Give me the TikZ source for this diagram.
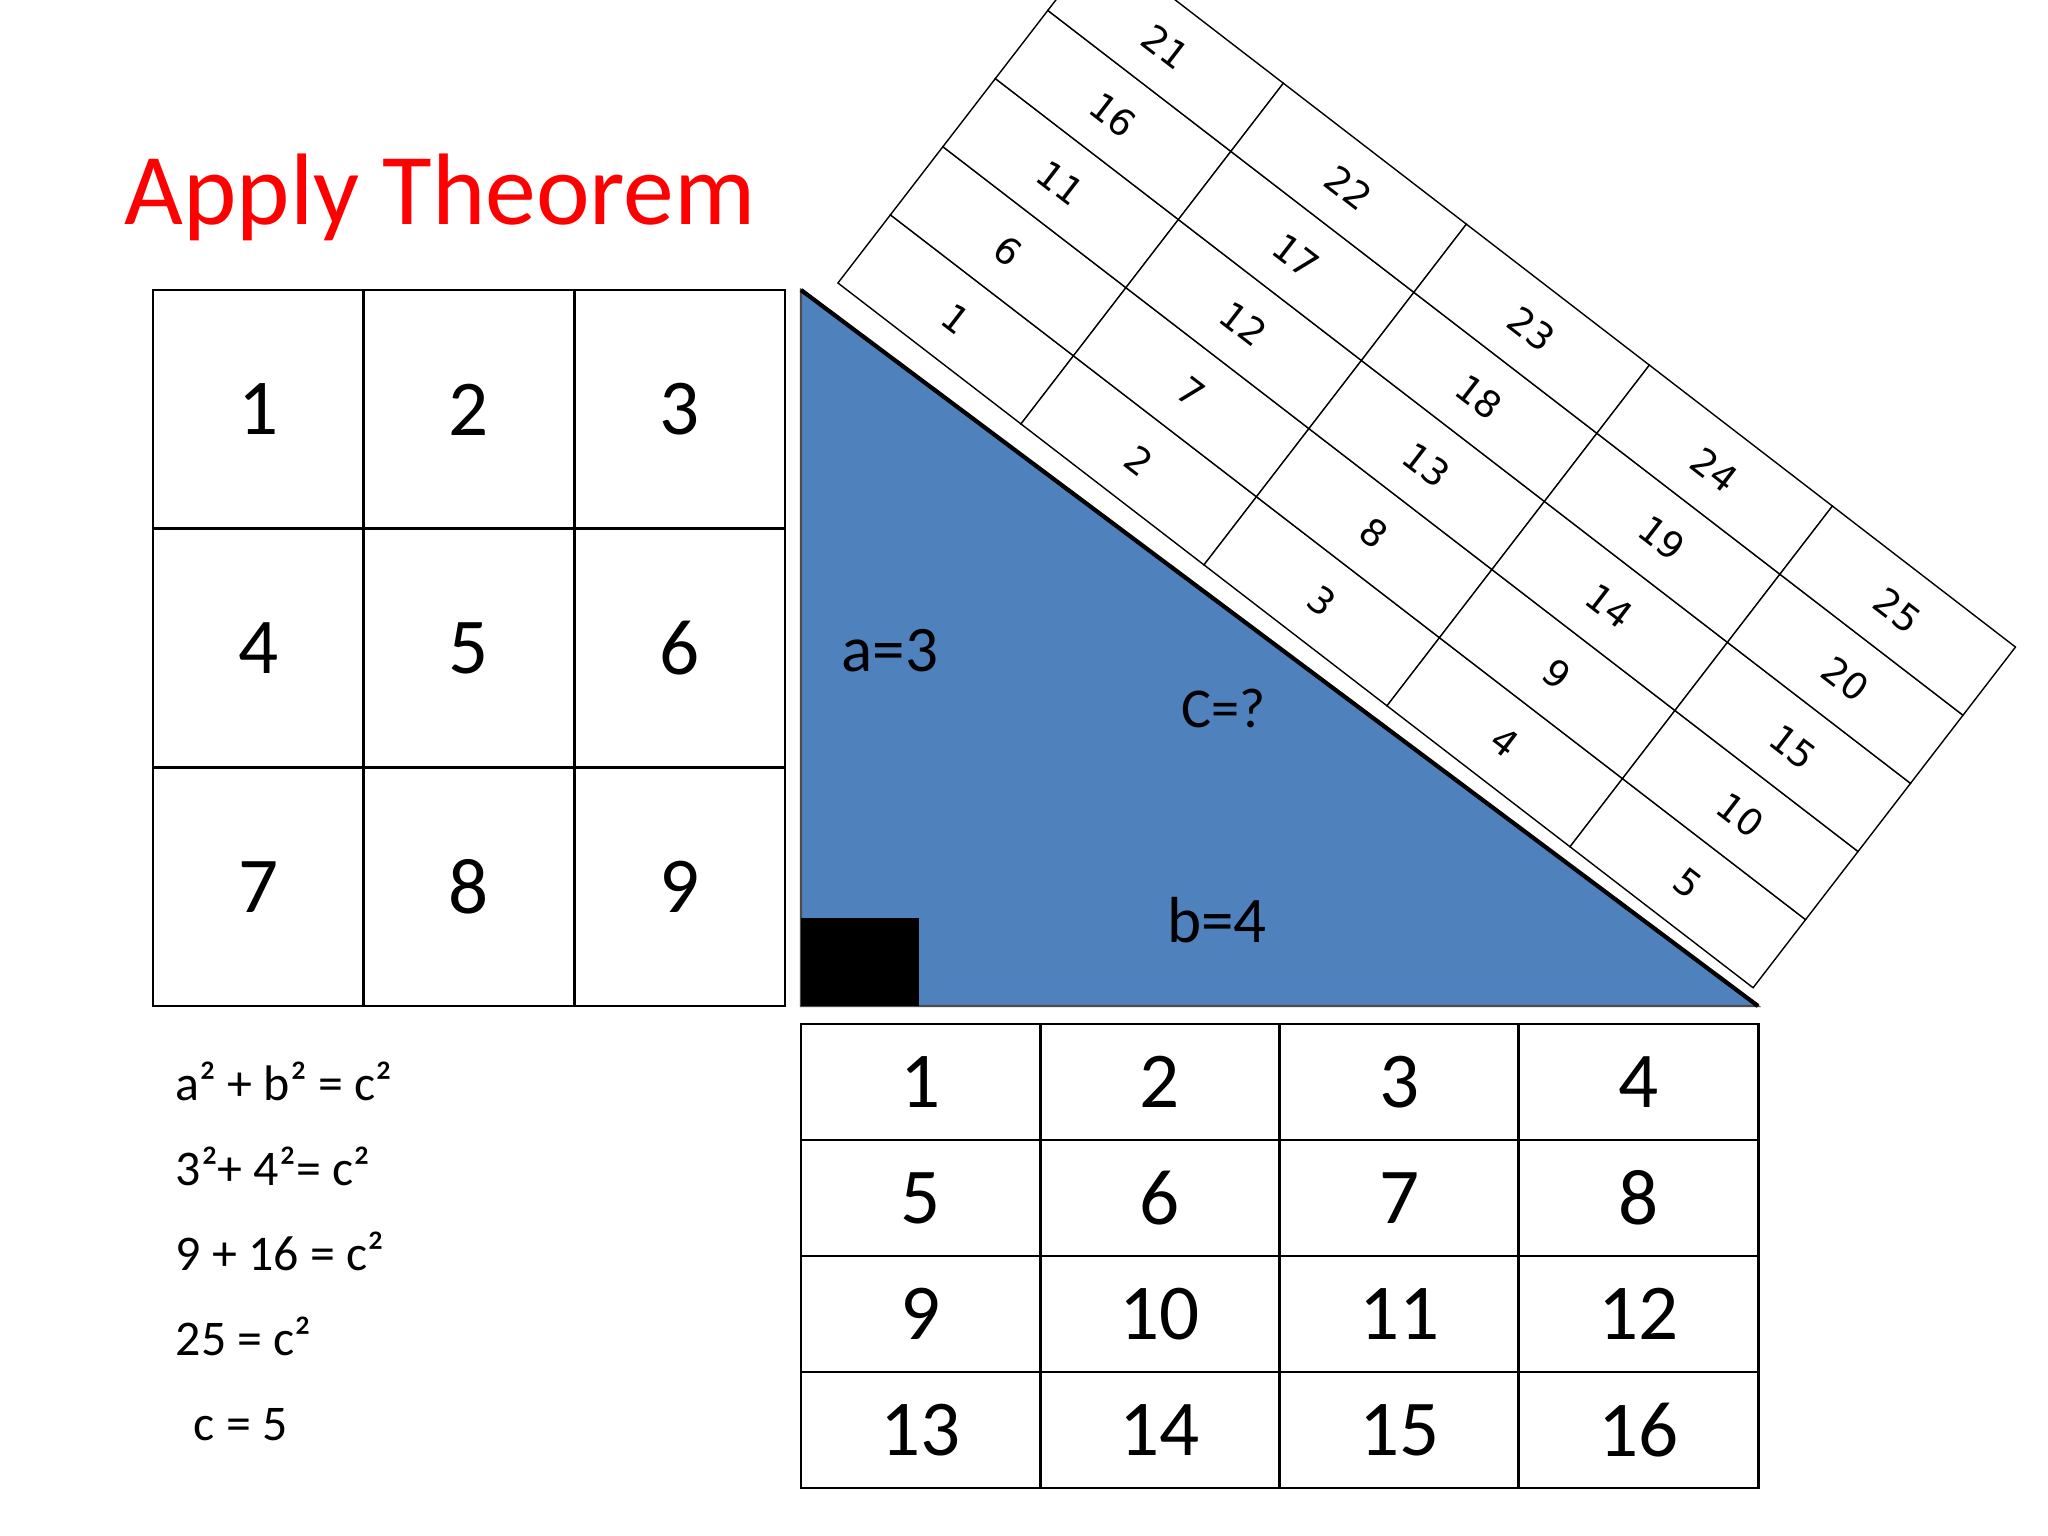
\documentclass[tikz,border=0pt]{standalone}
\usepackage{fontspec}
\setmainfont{Carlito}
\newfontfamily\tabfont{DejaVu Sans}
\definecolor{triblue}{RGB}{79,129,189}
\tikzset{
  bigcell/.style={draw, line width=0.8pt, minimum width=2.1067cm, minimum height=2.3867cm, inner sep=0pt, font=\fontsize{22.5}{26}\selectfont},
  lowcell/.style={draw, line width=0.8pt, minimum width=2.3925cm, minimum height=1.16cm, inner sep=0pt, font=\fontsize{22.5}{26}\selectfont},
  tiltcell/.style={draw, fill=white, line width=0.4pt, minimum width=2.31cm, minimum height=0.86cm, inner sep=0pt, font=\tabfont\fontsize{10.5}{12}\selectfont},
  sidelabel/.style={anchor=base, inner sep=0pt, font=\fontsize{18.5}{22}\selectfont},
  workline/.style={anchor=base west, inner sep=0pt, font=\fontsize{14.2}{17}\selectfont}
}
\begin{document}
\begin{tikzpicture}[x=0.01cm, y=-0.01cm]
				\useasboundingbox (0,0) rectangle (2048,1536);
				\clip (0,0) rectangle (2048,1536);
				\fill[white] (0,0) rectangle (2048,1536);

				% title
				\draw (124,224) node[anchor=base west, inner sep=0pt, text=red, font=\fontsize{28.9}{34}\selectfont] (title) {Apply Theorem};

				% square on side a
				\draw (258.33,409.33) node[bigcell] (a1) {1};
				\draw (469,409.33) node[bigcell] (a2) {2};
				\draw (679.67,409.33) node[bigcell] (a3) {3};
				\draw (258.33,648) node[bigcell] (a4) {4};
				\draw (469,648) node[bigcell] (a5) {5};
				\draw (679.67,648) node[bigcell] (a6) {6};
				\draw (258.33,886.67) node[bigcell] (a7) {7};
				\draw (469,886.67) node[bigcell] (a8) {8};
				\draw (679.67,886.67) node[bigcell] (a9) {9};

				% triangle
				\draw[black!70, fill=triblue, line width=0.6pt] (801,290) -- (801,1006) -- (1758,1006) -- cycle;
				\draw[black, line width=1.2pt] (801,290) -- (1758,1006);
				\fill[black] (801,918) rectangle (919,1006);
				\draw (890,671) node[sidelabel] (sa) {a=3};
				\draw (1224,727) node[sidelabel, font=\fontsize{16}{19}\selectfont] (sc) {C=?};
				\draw (1217,942) node[sidelabel] (sb) {b=4};

				% square on side b
				\draw (920.6,1082) node[lowcell] (b1) {1};
				\draw (1159.9,1082) node[lowcell] (b2) {2};
				\draw (1399.1,1082) node[lowcell] (b3) {3};
				\draw (1638.4,1082) node[lowcell] (b4) {4};
				\draw (920.6,1198) node[lowcell] (b5) {5};
				\draw (1159.9,1198) node[lowcell] (b6) {6};
				\draw (1399.1,1198) node[lowcell] (b7) {7};
				\draw (1638.4,1198) node[lowcell] (b8) {8};
				\draw (920.6,1314) node[lowcell] (b9) {9};
				\draw (1159.9,1314) node[lowcell] (b10) {10};
				\draw (1399.1,1314) node[lowcell] (b11) {11};
				\draw (1638.4,1314) node[lowcell] (b12) {12};
				\draw (920.6,1430) node[lowcell] (b13) {13};
				\draw (1159.9,1430) node[lowcell] (b14) {14};
				\draw (1399.1,1430) node[lowcell] (b15) {15};
				\draw (1638.4,1430) node[lowcell] (b16) {16};

				% square on side c, turned along the hypotenuse
				\begin{scope}[shift={(838,283)}, rotate=-37.6, transform shape]
				\draw (115.5,-43) node[tiltcell] (c1) {1};
				\draw (346.5,-43) node[tiltcell] (c2) {2};
				\draw (577.5,-43) node[tiltcell] (c3) {3};
				\draw (808.5,-43) node[tiltcell] (c4) {4};
				\draw (1039.5,-43) node[tiltcell] (c5) {5};
				\draw (115.5,-129) node[tiltcell] (c6) {6};
				\draw (346.5,-129) node[tiltcell] (c7) {7};
				\draw (577.5,-129) node[tiltcell] (c8) {8};
				\draw (808.5,-129) node[tiltcell] (c9) {9};
				\draw (1039.5,-129) node[tiltcell] (c10) {10};
				\draw (115.5,-215) node[tiltcell] (c11) {11};
				\draw (346.5,-215) node[tiltcell] (c12) {12};
				\draw (577.5,-215) node[tiltcell] (c13) {13};
				\draw (808.5,-215) node[tiltcell] (c14) {14};
				\draw (1039.5,-215) node[tiltcell] (c15) {15};
				\draw (115.5,-301) node[tiltcell] (c16) {16};
				\draw (346.5,-301) node[tiltcell] (c17) {17};
				\draw (577.5,-301) node[tiltcell] (c18) {18};
				\draw (808.5,-301) node[tiltcell] (c19) {19};
				\draw (1039.5,-301) node[tiltcell] (c20) {20};
				\draw (115.5,-387) node[tiltcell] (c21) {21};
				\draw (346.5,-387) node[tiltcell] (c22) {22};
				\draw (577.5,-387) node[tiltcell] (c23) {23};
				\draw (808.5,-387) node[tiltcell] (c24) {24};
				\draw (1039.5,-387) node[tiltcell] (c25) {25};
				\end{scope}

				% working
				\draw (175,1100) node[workline] (w1) {a² + b² = c²};
				\draw (175,1185) node[workline] (w2) {3²+ 4²= c²};
				\draw (175,1270) node[workline] (w3) {9 + 16 = c²};
				\draw (175,1355) node[workline] (w4) {25 = c²};
				\draw (193,1440) node[workline] (w5) {c = 5};
			\end{tikzpicture}
\end{document}
